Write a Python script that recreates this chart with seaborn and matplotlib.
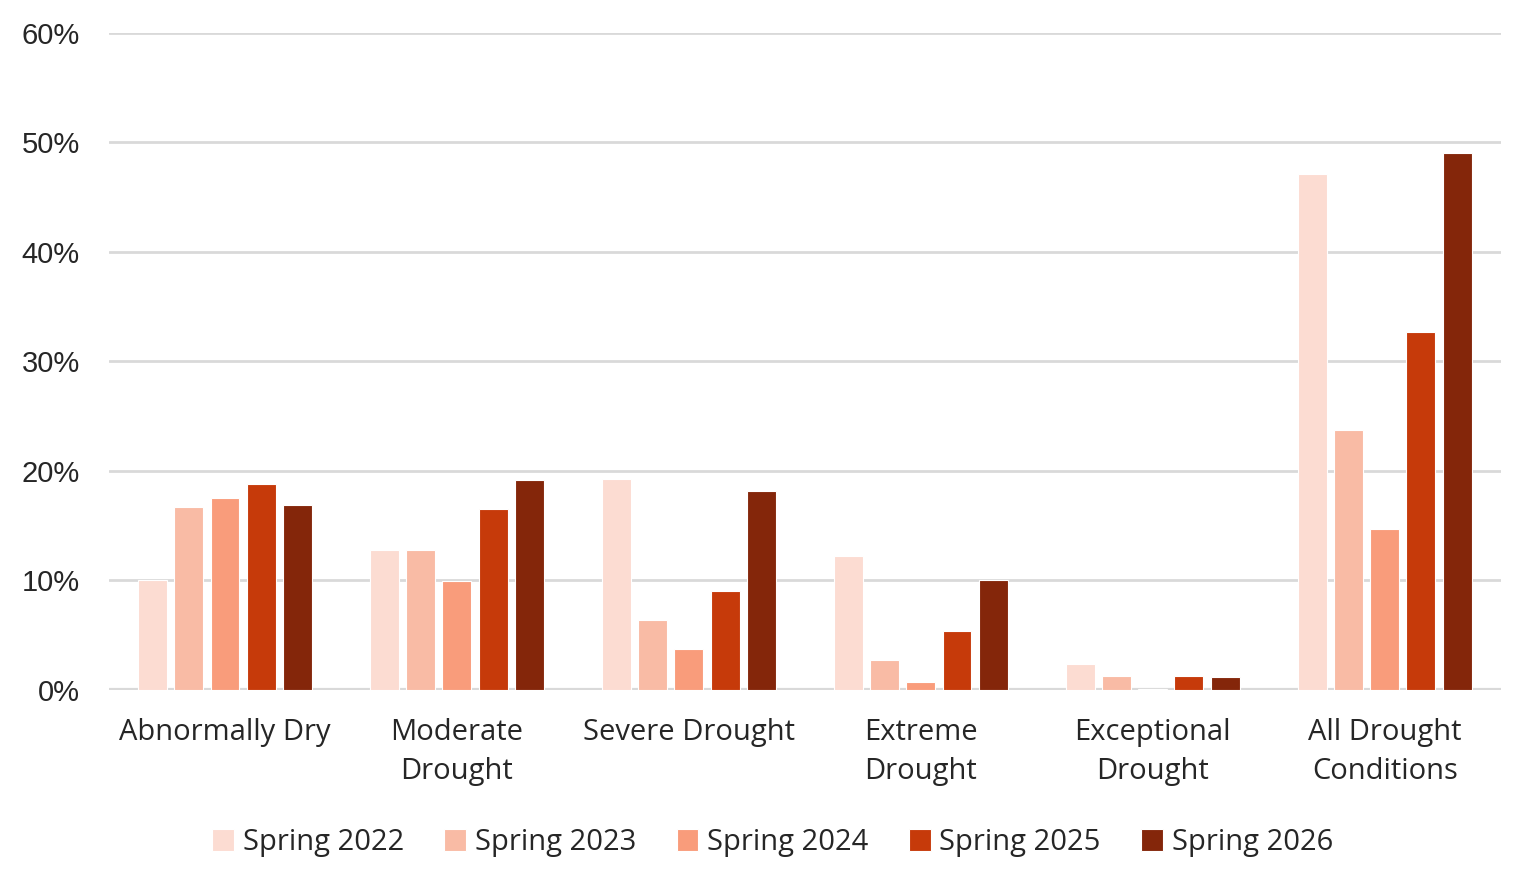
import pandas as pd
import numpy as np
import matplotlib.pyplot as plt
import seaborn as sns
from matplotlib.ticker import PercentFormatter

categories = ["Abnormally Dry", "Moderate\nDrought", "Severe Drought",
              "Extreme\nDrought", "Exceptional\nDrought", "All Drought\nConditions"]
seasons = ["Spring 2022", "Spring 2023", "Spring 2024", "Spring 2025", "Spring 2026"]

spring_2022 = [10.0, 12.8, 19.3, 12.2, 2.4, 47.1]
spring_2023 = [16.7, 12.8, 6.4, 2.7, 1.3, 23.7]
spring_2024 = [17.5, 9.9, 3.7, 0.7, 0.1, 14.7]
spring_2025 = [18.8, 16.5, 9.0, 5.4, 1.3, 32.7]
spring_2026 = [16.9, 19.2, 18.2, 10.0, 1.2, 49.0]

colors = ["#FCDCD2", "#F9BBA5", "#F99C7B", "#C63A0A", "#84260A"]

rows = []
for season, vals in zip(seasons, [spring_2022, spring_2023, spring_2024, spring_2025, spring_2026]):
    for cat, v in zip(categories, vals):
        rows.append({"category": cat, "season": season, "value": v})
df = pd.DataFrame(rows)

sns.set_style("white")
plt.rcParams['font.family'] = ['Open Sans', 'DejaVu Sans']

fig, ax = plt.subplots(figsize=(15.36, 8.89), dpi=100)
fig.subplots_adjust(left=0.071, right=0.977, top=0.963, bottom=0.224)

sns.barplot(data=df, x="category", y="value", hue="season", palette=colors,
            order=categories, hue_order=seasons, width=0.78, gap=0.2,
            saturation=1, edgecolor="white", linewidth=0.8, ax=ax)

ax.set_ylim(0, 60)
ax.set_yticks(range(0, 61, 10))
ax.yaxis.set_major_formatter(PercentFormatter(decimals=0))
ax.grid(True, axis='y', color="#d9d9d9", linewidth=2)
ax.set_axisbelow(True)
sns.despine(ax=ax, left=True, bottom=True)
ax.axhline(0, color="#d9d9d9", linewidth=3, zorder=0.5)
ax.set_xlim(-0.5, 5.5)
ax.set_xlabel("")
ax.set_ylabel("")
ax.tick_params(axis='y', length=0, pad=21, labelsize=21)
ax.tick_params(axis='x', length=0, pad=20, labelsize=21)
for lab in ax.get_yticklabels():
    lab.set_family(['Liberation Sans', 'DejaVu Sans'])
for lab in ax.get_xticklabels():
    lab.set_linespacing(1.45)

handles, labels = ax.get_legend_handles_labels()
ax.legend_.remove()
fig.legend(handles, labels, loc="center", bbox_to_anchor=(0.503, 0.052),
           ncol=5, frameon=False, fontsize=21, handlelength=0.75, handleheight=0.75,
           handletextpad=0.3, columnspacing=1.38)

plt.savefig("out.png", dpi=100)
plt.close()
